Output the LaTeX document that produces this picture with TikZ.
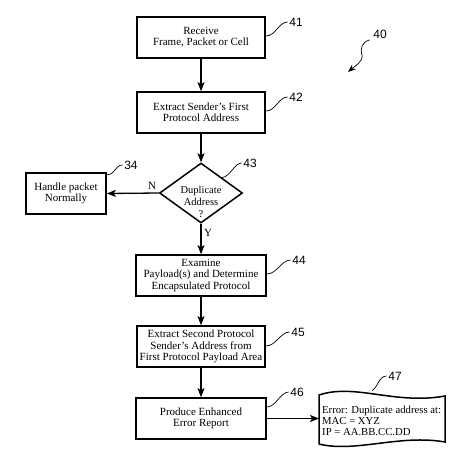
\documentclass[tikz,border=0pt]{standalone}
\usepackage{fontspec}
\setmainfont{Liberation Serif}
\newfontfamily\refnumfont{Liberation Sans}
\usetikzlibrary{arrows.meta, shapes.geometric}

\tikzset{
  stepbox/.style={draw, line width=1.6pt, minimum width=128pt, minimum height=41pt,
    inner sep=0pt, align=center, font=\fontsize{11}{11.3}\selectfont},
  decision/.style={draw, diamond, line width=1.5pt, minimum width=83pt,
    minimum height=60pt, inner sep=0pt},
  flow/.style={line width=1.3pt, -{Stealth[length=9pt,width=7pt,inset=2pt]}},
  leader/.style={line width=0.7pt},
  refnum/.style={font=\refnumfont\fontsize{12}{12}\selectfont, inner sep=1.5pt},
  answer/.style={font=\fontsize{11}{11}\selectfont, inner sep=0pt},
}

\begin{document}
\begin{tikzpicture}[x=1pt, y=-1pt]
            \useasboundingbox (0,0) rectangle (474,464);

            \node[stepbox] (b41) at (201,37.5) {Receive\\Frame, Packet or Cell};
            \node[stepbox] (b42) at (201,112.5) {Extract Sender's First\\Protocol Address};
            \node[decision] (d43) at (201,193) {};
            \node[align=center, inner sep=0pt, font=\fontsize{10.5}{12}\selectfont] (t43) at (201,202) {Duplicate\\Address\\?};
            \node[stepbox, minimum width=80pt] (b34) at (66,193.5) {Handle packet\\Normally};
            \node[stepbox, minimum width=130pt] (b44) at (201,275.5) {Examine\\Payload(s) and Determine\\Encapsulated Protocol};
            \node[stepbox] (b45) at (201,346.5) {Extract Second Protocol\\Sender's Address from\\First Protocol Payload Area};
            \node[stepbox, minimum width=130pt] (b46) at (201,418.5) {Produce Enhanced\\Error Report};

            % report sheet
            \draw[line width=1.5pt] (319,395) .. controls (355,383) and (395,405) .. (445,396)
                -- (445,442) .. controls (400,434) and (355,453) .. (319,444) -- cycle;
            \coordinate (s47) at (319,418.5);
            \coordinate (w47) at (372,390.5);
            \node[anchor=west, align=left, inner sep=0pt, font=\fontsize{10.7}{11}\selectfont] (t47) at (322,421) {Error: Duplicate address at:\\MAC = XYZ\\IP = AA.BB.CC.DD};

            \draw[flow] (b41) -- (b42); % 41-42
            \draw[flow] (b42) -- (d43); % 42-43
            \draw[flow] (d43.west) -- (b34.east); % 43-34
            \draw[flow] (d43.south) -- (b44.north); % 43-44
            \draw[flow] (b44) -- (b45); % 44-45
            \draw[flow] (b45) -- (b46); % 45-46
            \draw[flow] (b46.east) -- (s47); % 46-47

            \node[answer] (nn) at (152,186) {N};
            \node[answer] (ny) at (208,233) {Y};

            % reference numerals
            \node[refnum] (n41) at (296,22) {41};
            \node[refnum] (n42) at (296,97) {42};
            \node[refnum] (n43) at (250,163) {43};
            \node[refnum] (n34) at (131,165) {34};
            \node[refnum] (n44) at (299,260) {44};
            \node[refnum] (n45) at (298,332) {45};
            \node[refnum] (n46) at (297,392) {46};
            \node[refnum] (n47) at (395,376) {47};
            \node[refnum] (n40) at (380,34) {40};

            \draw[leader] ([yshift=1.5pt]b41.east) .. controls +(10,0) and +(-9,0) .. (n41.west);
            \draw[leader] ([yshift=1.5pt]b42.east) .. controls +(10,0) and +(-9,0) .. (n42.west);
            \draw[leader] (d43.north east) .. controls +(8,-1) and +(-7,0) .. (n43.west);
            \draw[leader] ([yshift=-2.5pt]b34.north east) .. controls +(9,0) and +(-8,0) .. (n34.west);
            \draw[leader] ([yshift=1.5pt]b44.east) .. controls +(10,0) and +(-9,0) .. (n44.west);
            \draw[leader] ([yshift=0.5pt]b45.east) .. controls +(10,0) and +(-9,0) .. (n45.west);
            \draw[leader] ([yshift=11.5pt]b46.east) .. controls +(9,0) and +(-8,0) .. (n46.west);
            \draw[leader] (w47) .. controls +(6,-3) and +(-8,0) .. (n47.west);
            \draw[leader, -{Stealth[length=8pt,width=6pt]}] ([xshift=-2pt]n40.south west)
                .. controls (362,42) and (360,48) .. (362,55)
                .. controls (363,62) and (355,66) .. (348,72);
\end{tikzpicture}
\end{document}
